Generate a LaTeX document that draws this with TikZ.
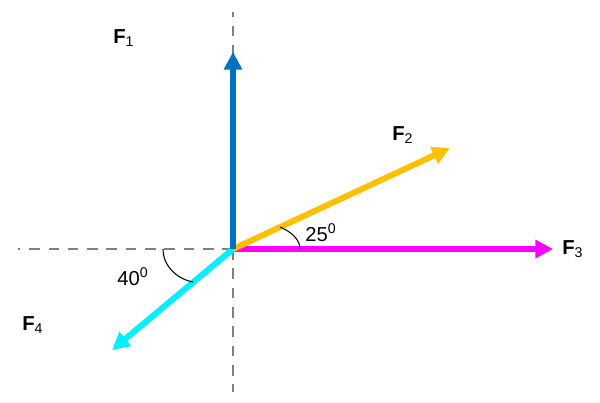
\documentclass[tikz,border=0pt]{standalone}
\usepackage{fontspec}
\setmainfont{Liberation Sans}
\usetikzlibrary{arrows.meta}

\definecolor{fblue}{RGB}{0,112,192}
\definecolor{fgold}{RGB}{255,192,0}
\definecolor{fmagenta}{RGB}{255,0,255}
\definecolor{fcyan}{RGB}{0,240,255}

\begin{document}
\begin{tikzpicture}[x=0.02cm,y=-0.02cm,
    force/.style={line width=3.4pt,-{Triangle[length=10pt,width=10pt]}},
    axis/.style={gray,line width=1.1pt,dash pattern=on 6pt off 5pt},
    lbl/.style={font=\fontsize{11.5}{13}\selectfont,anchor=base west,inner sep=0pt},
    ang/.style={line width=0.6pt}]
  \useasboundingbox (0,0) rectangle (600,403);

  % axes
  \coordinate (O)    at (233,249);
  \coordinate (up)   at (233,12);
  \coordinate (down) at (233,392);
  \coordinate (left) at (18,249);
  \draw[axis] (O) -- (up);
  \draw[axis] (O) -- (down);
  \draw[axis] (O) -- (left);

  % force tips
  \coordinate (t1) at (233,52);
  \coordinate (t2) at (450,148);
  \coordinate (t3) at (553,249);
  \coordinate (t4) at (112,350);

  \draw[force,fmagenta] (O) -- (t3);
  \draw[force,fgold]    (O) -- (t2);
  \draw[force,fcyan]    (O) -- (t4);
  \draw[force,fblue]    (O) -- (t1);

  % angles
  \draw[ang] (280,227) .. controls (292,232) and (300,240) .. (300,249);
  \draw[ang] (163,249) .. controls (163,266) and (177,279) .. (193,282);

  % labels
  \node[lbl] (f1) at (113,43)  {\textbf{F}\textsubscript{1}};
  \node[lbl] (f2) at (392,140) {\textbf{F}\textsubscript{2}};
  \node[lbl] (f3) at (562,254) {\textbf{F}\textsubscript{3}};
  \node[lbl] (f4) at (22,330)  {\textbf{F}\textsubscript{4}};
  \node[lbl] (a25) at (305,241) {25\textsuperscript{0}};
  \node[lbl] (a40) at (117,285) {40\textsuperscript{0}};
\end{tikzpicture}
\end{document}
